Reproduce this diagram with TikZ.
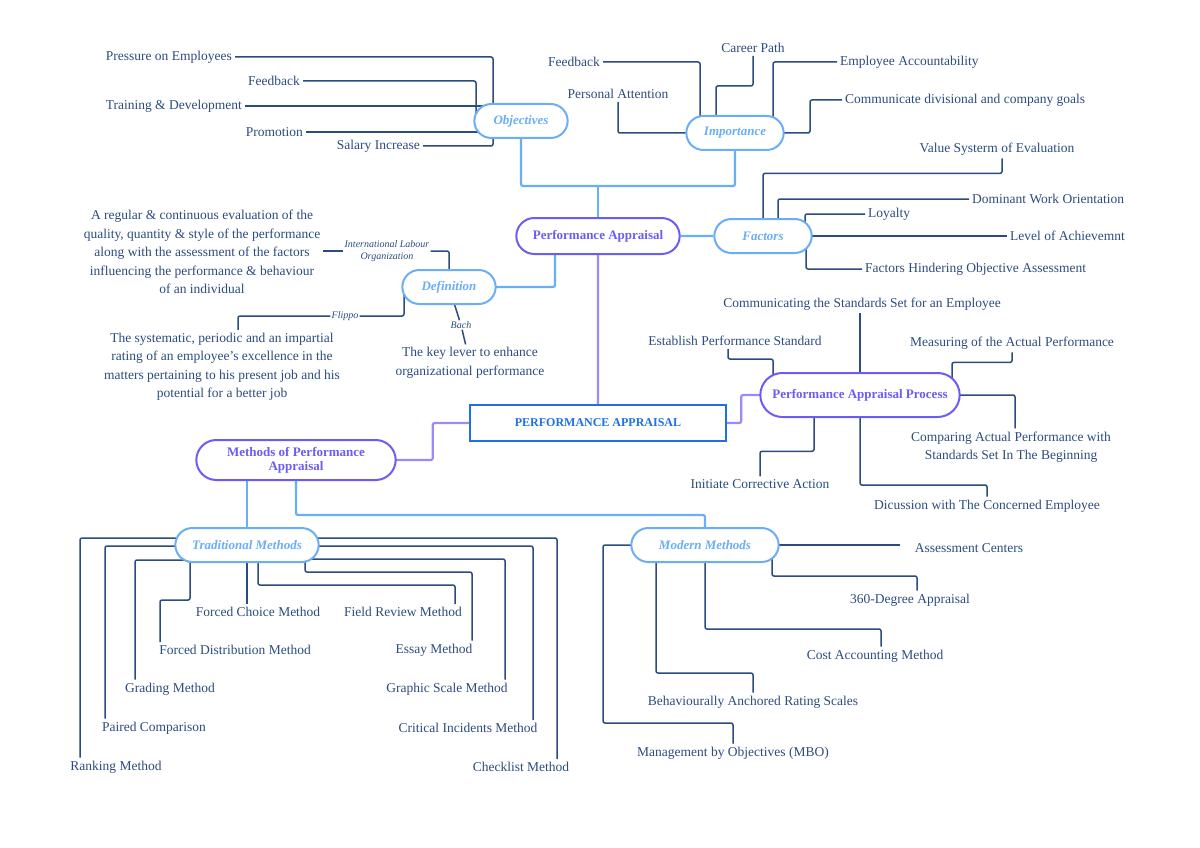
\documentclass[tikz,border=0pt]{standalone}
\usepackage{fontspec}
\setmainfont{Liberation Serif}
\usetikzlibrary{shapes.misc, backgrounds, positioning}
\definecolor{navy}{HTML}{2B4C7E}
\definecolor{lblue}{HTML}{6AAEF8}
\definecolor{purp}{HTML}{6B5CF5}
\definecolor{lpurp}{HTML}{9A8CF8}
\definecolor{boxblue}{HTML}{1F6FE5}
\tikzset{
  txt/.style = {text=navy, font=\fontsize{13.5}{18.5}\selectfont, inner sep=3pt},
  lab/.style = {text=navy, font=\fontsize{10}{12}\selectfont\itshape, inner sep=1pt, align=center},
  sub/.style = {rounded rectangle, draw=lblue, line width=2pt, fill=white, text=lblue,
    font=\fontsize{13}{15}\selectfont\bfseries\itshape, minimum height=34pt},
  main/.style = {rounded rectangle, draw=purp, line width=2pt, fill=white, text=purp,
    font=\fontsize{13}{15}\selectfont\bfseries, minimum height=36pt, align=center},
  link/.style = {draw=navy, line width=1.5pt, rounded corners=2pt},
  blink/.style = {draw=lblue, line width=2.2pt, rounded corners=2pt},
  plink/.style = {draw=lpurp, line width=2.2pt, rounded corners=2pt}
}
\begin{document}
\begin{tikzpicture}[x=1pt, y=-1pt]
\useasboundingbox (0,0) rectangle (1200,848);
% centre
\node[main, minimum width=170pt] (pa) at (598,236) {Performance Appraisal};
\node[draw=boxblue, line width=2.4pt, fill=white, text=boxblue, font=\fontsize{12}{14}\selectfont\bfseries,
  minimum width=256pt, minimum height=36pt] (box) at (598,423) {PERFORMANCE APPRAISAL};
\coordinate (hub) at (598,186);

% objectives
\node[sub, minimum width=100pt] (obj) at (521,121) {Objectives};
\node[txt, anchor=east] (pres) at (235,57) {Pressure on Employees};
\node[txt, anchor=east] (fb1) at (303,81) {Feedback};
\node[txt, anchor=east] (train) at (245,106) {Training \& Development};
\node[txt, anchor=east] (prom) at (306,132) {Promotion};
\node[txt, anchor=east] (sal) at (423,146) {Salary Increase};

% importance
\node[sub, minimum width=104pt] (imp) at (735,133) {Importance};
\node[txt, anchor=east] (fb2) at (603,62) {Feedback};
\node[txt] (pers) at (618,94) {Personal Attention};
\node[txt] (car) at (753,48) {Career Path};
\node[txt, anchor=west] (acc) at (837,62) {Employee Accountability};
\node[txt, anchor=west] (comm) at (842,100) {Communicate divisional and company goals};

% factors
\node[sub, minimum width=104pt] (fac) at (763,236) {Factors};
\node[txt] (val) at (997,149) {Value Systerm of Evaluation};
\node[txt, anchor=west] (dom) at (969,199) {Dominant Work Orientation};
\node[txt, anchor=west] (loy) at (865,214) {Loyalty};
\node[txt, anchor=west] (lev) at (1007,236) {Level of Achievemnt};
\node[txt, anchor=west] (hin) at (862,269) {Factors Hindering Objective Assessment};

% definition
\node[sub, minimum width=100pt] (def) at (449,287) {Definition};
\node[txt, align=center] (ilotext) at (202,252) {A regular \& continuous evaluation of the\\quality, quantity \& style of the performance\\along with the assessment of the factors\\influencing the performance \& behaviour\\of an individual};
\node[lab] (ilolab) at (387,251) {International Labour\\Organization};
\node[lab] (flip) at (345,316) {Flippo};
\node[txt, align=center] (fliptext) at (222,367) {The systematic, periodic and an impartial\\rating of an employee's excellence in the\\matters pertaining to his present job and his\\potential for a better job};
\node[lab] (bach) at (461,325) {Bach};
\node[txt, align=center] (bachtext) at (470,363) {The key lever to enhance\\organizational performance};

% process
\node[main, minimum width=206pt, minimum height=44pt] (proc) at (860,395) {Performance Appraisal Process};
\node[txt] (comm2) at (862,304) {Communicating the Standards Set for an Employee};
\node[txt] (est) at (735,341) {Establish Performance Standard};
\node[txt] (meas) at (1012,343) {Measuring of the Actual Performance};
\node[txt, align=center] (cmp) at (1011,447) {Comparing Actual Performance with\\Standards Set In The Beginning};
\node[txt] (init) at (760,484) {Initiate Corrective Action};
\node[txt] (disc) at (987,506) {Dicussion with The Concerned Employee};

% methods
\node[main, minimum width=206pt, minimum height=40pt, font=\fontsize{13}{14}\selectfont\bfseries] (meth) at (296,460) {Methods of Performance\\Appraisal};
\node[sub, minimum width=150pt] (trad) at (247,545) {Traditional Methods};
\node[sub, minimum width=154pt] (mod) at (705,545) {Modern Methods};
\node[txt] (rank) at (116,767) {Ranking Method};
\node[txt] (pair) at (154,728) {Paired Comparison};
\node[txt] (grad) at (170,689) {Grading Method};
\node[txt] (fd) at (235,650) {Forced Distribution Method};
\node[txt] (fc) at (258,612) {Forced Choice Method};
\node[txt] (fr) at (403,612) {Field Review Method};
\node[txt] (ess) at (434,650) {Essay Method};
\node[txt] (gs) at (447,689) {Graphic Scale Method};
\node[txt] (ci) at (468,728) {Critical Incidents Method};
\node[txt] (chk) at (521,767) {Checklist Method};
\node[txt] (ac) at (969,548) {Assessment Centers};
\node[txt] (deg) at (910,600) {360-Degree Appraisal};
\node[txt] (cost) at (875,656) {Cost Accounting Method};
\node[txt] (bars) at (753,702) {Behaviourally Anchored Rating Scales};
\node[txt] (mbo) at (733,753) {Management by Objectives (MBO)};

\begin{scope}[on background layer]
% main branches
\draw[blink] (obj.center) |- (hub) -| (imp.center);
\draw[blink] (pa.center) -- (hub);
\draw[blink] (pa) -- (fac);
\draw[blink] (def.center) -| ([xshift=-43pt]pa.center);
\draw[plink] (pa) -- (box);
\draw[plink] (box.east) -- ++(14,0) |- (proc.center);
\draw[plink] (box.west) -- ++(-36,0) |- (meth.center);
\draw[blink] ([xshift=-49pt]meth.center) -- (trad.center);
\draw[blink] ([xshift=0pt]meth.south) -- ++(0,34) -| (mod.center);
% objectives
\draw[link] (pres.east) -| ([xshift=-28pt]obj.center);
\draw[link] (fb1.east) -| ([xshift=-45pt]obj.center);
\draw[link] (train.east) -- (train.east -| obj.center);
\draw[link] (prom.east) -- (prom.east -| obj.center);
\draw[link] (sal.east) -| ([xshift=-28pt]obj.center);
% importance
\draw[link] (fb2.east) -| ([xshift=-35pt]imp.center);
\draw[link] (pers.south) |- (imp.center);
\draw[link] (car.south) -- ++(0,30) -| ([xshift=-19pt]imp.center);
\draw[link] (acc.west) -| ([xshift=38pt]imp.center);
\draw[link] (comm.west) -- ++(-32,0) |- (imp.center);
% factors
\draw[link] ([xshift=5pt]val.south) -- ++(0,15) -| (fac.center);
\draw[link] (dom.west) -| ([xshift=15pt]fac.center);
\draw[link] (loy.west) -| ([xshift=42pt]fac.center);
\draw[link] (lev.west) -- (fac.center);
\draw[link] (hin.west) -| ([xshift=43pt]fac.center);
% definition
\draw[link] (ilolab.west) -- (ilolab.west -| ilotext.east);
\draw[link] (ilolab.east) -| (def.center);
\draw[link] (flip.east) -| ([xshift=-45pt]def.center);
\draw[link] (flip.west) -| ([xshift=16pt]fliptext.north);
\draw[link] (def) -- (bach);
\draw[link] (bach) -- (bachtext);
% process
\draw[link] (proc.center) -- (proc.center |- comm2.south);
\draw[link] ([xshift=-7pt]est.south) -- ++(0,10) -| ([xshift=-87pt]proc.center);
\draw[link] (meas.south) -- ++(0,10) -| ([xshift=92pt]proc.center);
\draw[link] (proc.center) -| ([xshift=4pt]cmp.north);
\draw[link] (init.north) -- ++(0,-25) -| ([xshift=-46pt]proc.center);
\draw[link] (proc.south) -- ++(0,67) -| (disc.north);
% traditional
\draw[link] ([xshift=-36pt]rank.north) |- ([yshift=7pt]trad.center);
\draw[link] ([xshift=-49pt]pair.north) |- ([yshift=-1pt]trad.center);
\draw[link] ([xshift=-35pt]grad.north) |- ([yshift=-15pt]trad.center);
\draw[link] ([xshift=-75pt]fd.north) -- ++(0,-42) -| ([xshift=-57pt]trad.center);
\draw[link] (trad.center) -- (trad.center |- fc.north);
\draw[link] ([xshift=11pt]trad.center) -- ++(0,40) -| ([xshift=52pt]fr.north);
\draw[link] ([xshift=58pt]trad.center) -- ++(0,27) -| ([xshift=38pt]ess.north);
\draw[link] ([yshift=-14pt]trad.center) -| ([xshift=58pt]gs.north);
\draw[link] ([yshift=-1pt]trad.center) -| ([xshift=65pt]ci.north);
\draw[link] ([yshift=7pt]trad.center) -| ([xshift=36pt]chk.north);
% modern
\draw[link] (mod.center) -- ([xshift=-12pt]ac.west |- mod.center);
\draw[link] ([xshift=67pt]mod.center) -- ++(0,31) -| ([xshift=7pt]deg.north);
\draw[link] (mod.center) -- ++(0,84) -| ([xshift=6pt]cost.north);
\draw[link] ([xshift=-49pt]mod.center) -- ++(0,128) -| (bars.north);
\draw[link] (mod.center) -- ++(-102,0) -- ++(0,178) -| (mbo.north);
\end{scope}
\end{tikzpicture}
\end{document}
